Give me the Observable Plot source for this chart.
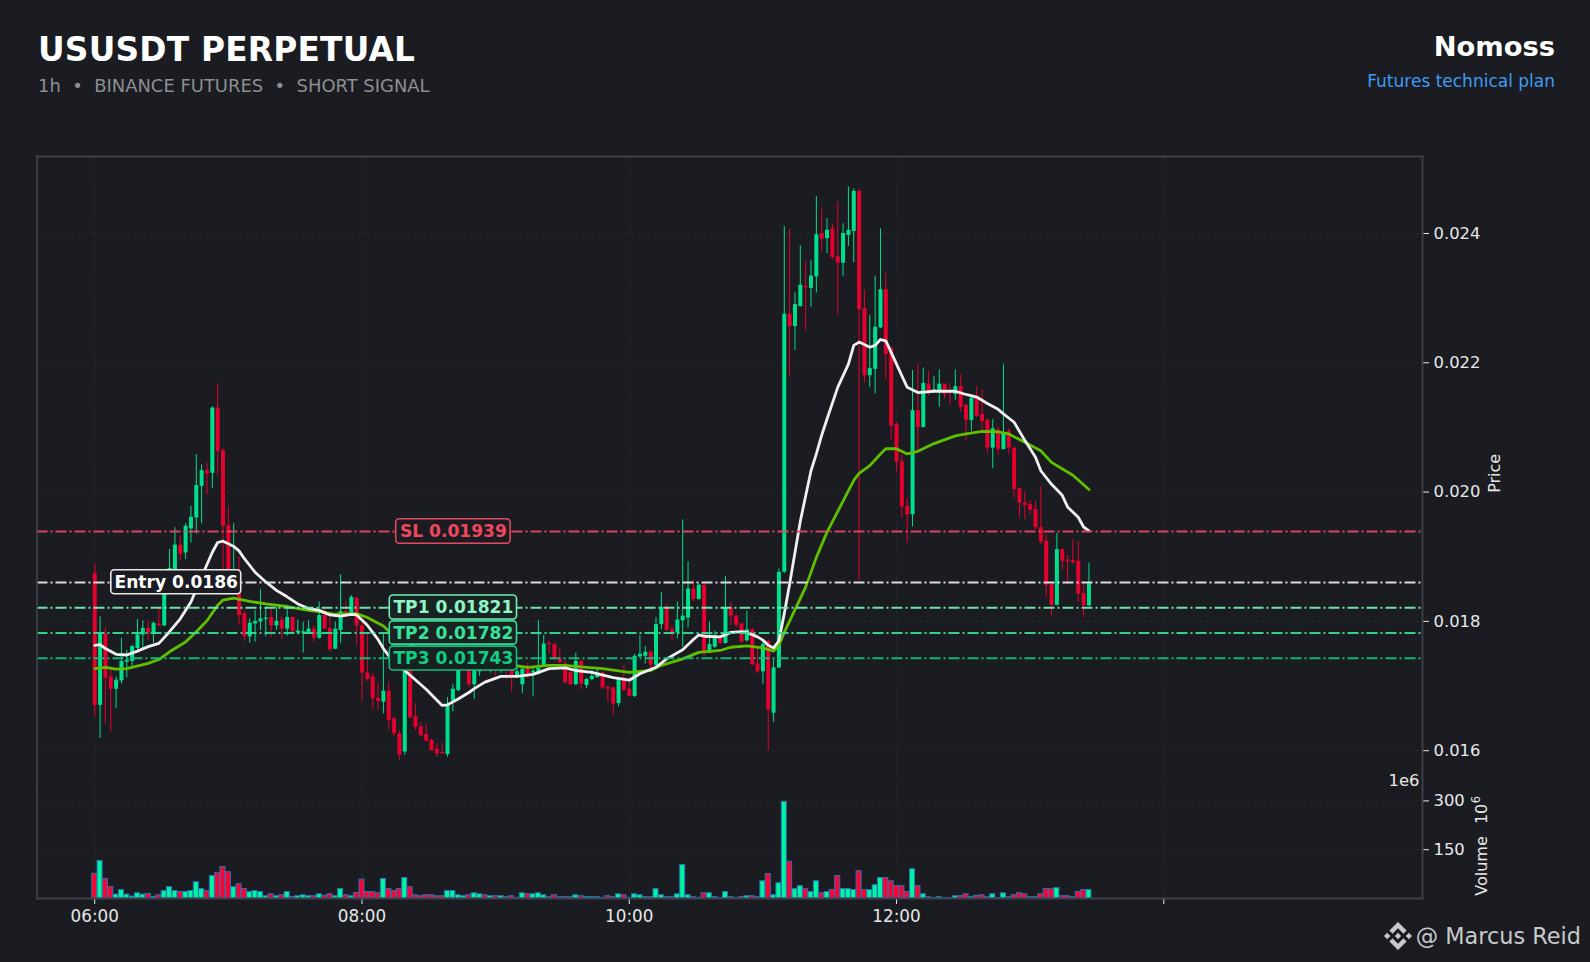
<!DOCTYPE html>
<html><head><meta charset="utf-8">
<script src="https://cdn.jsdelivr.net/npm/d3@7"></script>
<script src="https://cdn.jsdelivr.net/npm/@observablehq/plot@0.6"></script>
<style>
html,body{margin:0;padding:0;background:#1a1c21;width:1590px;height:962px;overflow:hidden;font-family:"DejaVu Sans",sans-serif}
.t{position:absolute;white-space:nowrap}
</style></head><body>
<div id="chart"></div>
<div class="t" style="left:38px;top:31px;font-size:32.8px;font-weight:700;color:#fff;letter-spacing:.2px">USUSDT PERPETUAL</div>
<div class="t" style="left:38px;top:75px;font-size:17.95px;color:#8e8f93">1h &nbsp;•&nbsp; BINANCE FUTURES &nbsp;•&nbsp; SHORT SIGNAL</div>
<div class="t" style="right:35px;top:31px;font-size:27.3px;font-weight:700;color:#fff">Nomoss</div>
<div class="t" style="right:35px;top:71px;font-size:17px;color:#3f9cf5">Futures technical plan</div>
<div class="t" id="mark" style="right:9px;top:922px;font-size:22.4px;color:#c9c9c9;display:flex;align-items:center;gap:4px">
<svg width="28" height="28" viewBox="0 0 126.6 126.6"><g fill="#c9c9c9"><path d="M38.7 53.2 63.3 28.6l24.6 24.6 14.3-14.3L63.3 0 24.4 38.9z"/><path d="M0 63.3 14.3 49l14.3 14.3-14.3 14.3z"/><path d="M38.7 73.4 63.3 98l24.6-24.6 14.3 14.3-38.9 38.9-38.9-38.9z"/><path d="M98 63.3 112.3 49l14.3 14.3-14.3 14.3z"/><path d="M77.8 63.3 63.3 48.8 52.6 59.5l-1.2 1.2-2.5 2.5 14.4 14.6 14.5-14.5z"/></g></svg><span>@ Marcus Reid</span></div>
<script>
const open = [.01874,.0167,.01781,.01714,.01695,.01708,.01737,.01738,.01758,.01779,
.01789,.0178,.01796,.01793,.01863,.01879,.01918,.01906,.01943,.0196,
.02009,.02033,.02029,.0213,.02064,.01948,.01868,.01875,.01812,.01776,
.01796,.01799,.01803,.01806,.01793,.01802,.01788,.01806,.01782,.01782,
.01782,.01788,.01774,.01809,.01789,.01757,.01786,.01815,.01812,.01836,
.01793,.0172,.01714,.01681,.01675,.01692,.01649,.01626,.01598,.01745,
.01653,.01637,.01625,.01616,.01602,.01597,.01594,.01677,.01693,.01729,
.01735,.01702,.01722,.01735,.01726,.01733,.01725,.0173,.0173,.01716,
.01702,.01727,.0172,.01719,.01732,.01766,.01764,.01741,.01734,.01721,
.01702,.01738,.01701,.0171,.01713,.0172,.01698,.01697,.01673,.01711,
.01695,.01684,.01745,.01746,.01752,.01732,.01795,.01822,.01787,.01782,
.01801,.01805,.0185,.01834,.01856,.01751,.0176,.01775,.01766,.01821,
.01808,.01796,.0177,.01787,.01734,.01722,.01769,.01658,.01728,.01876,
.02275,.02256,.02287,.02318,.02315,.02333,.024,.02392,.02407,.02364,
.02354,.02397,.02403,.02465,.02284,.0218,.0219,.02254,.02313,.02222,
.02105,.02047,.01978,.01965,.02126,.021,.02167,.02155,.02156,.02167,
.02157,.02151,.02163,.02134,.02111,.02147,.0212,.02111,.02068,.02096,
.02066,.02094,.02068,.02005,.01983,.01981,.01973,.01945,.01924,.01857,
.01825,.01911,.01895,.01894,.01893,.01843,.01824];
const close = [.0167,.01782,.01712,.01695,.01709,.01738,.0174,.01761,.01779,.01789,
.01782,.01797,.01793,.01863,.01882,.01918,.01904,.01947,.01961,.0201,
.02033,.02028,.0213,.02063,.01947,.01868,.01875,.01809,.01776,.01797,
.018,.01804,.01805,.01793,.018,.01788,.01806,.01784,.01785,.01784,
.01788,.01774,.01809,.01788,.01756,.01788,.01815,.01812,.01837,.01793,
.0172,.0171,.0168,.01676,.01692,.01647,.01626,.01593,.01745,.01651,
.01636,.01623,.01615,.016,.01595,.01595,.01671,.01695,.01729,.01736,
.01702,.01735,.01735,.01726,.01733,.01725,.0173,.01726,.01716,.01722,
.01726,.01716,.01723,.01727,.01765,.01764,.01741,.01736,.01705,.01702,
.01738,.01703,.0171,.01715,.0172,.01697,.01695,.01672,.01711,.01693,
.01684,.01746,.01749,.01752,.01732,.01795,.01822,.01786,.01782,.01802,
.01808,.0185,.01834,.01856,.01752,.01764,.01778,.01766,.01821,.01808,
.01794,.01768,.01787,.01733,.01722,.01764,.01663,.01728,.01876,.02275,
.02256,.0229,.0232,.02316,.02334,.02398,.02391,.02405,.02363,.02354,
.024,.02405,.02465,.02282,.0218,.02191,.02255,.02313,.02213,.02102,
.02046,.01977,.01965,.02126,.021,.02168,.02155,.02158,.02167,.02151,
.02155,.02163,.02131,.02111,.02145,.02117,.02109,.02068,.02098,.02066,
.0209,.02068,.02004,.01983,.01979,.01972,.01945,.01923,.01856,.01825,
.01911,.01893,.01893,.01891,.01842,.01824,.01858];
const high = [.01889,.01807,.0179,.01725,.01714,.01774,.01755,.01763,.01803,.01801,
.01801,.01799,.01821,.01875,.01911,.01945,.01932,.01951,.01978,.02058,
.02042,.02045,.02132,.02168,.02067,.01977,.01951,.019,.01815,.01804,
.01817,.01849,.01822,.0182,.01822,.01807,.01825,.01807,.01802,.01799,
.01801,.01794,.0183,.0182,.01807,.01799,.01872,.0183,.0184,.01837,
.01804,.01781,.01719,.01704,.01781,.01706,.01653,.01631,.0175,.01748,
.01673,.01644,.01641,.01618,.01611,.01612,.01682,.01703,.01735,.01745,
.01745,.01748,.01742,.0174,.01742,.01738,.01736,.01738,.01738,.0173,
.0173,.01735,.01727,.01801,.01778,.0177,.01766,.01757,.01739,.01727,
.01751,.0174,.01712,.01724,.01729,.01722,.017,.01699,.01713,.01732,
.01712,.01749,.01778,.01761,.01755,.01806,.01845,.01827,.01794,.0183,
.01957,.01892,.01863,.01858,.01857,.01799,.01785,.01778,.01869,.01829,
.0181,.01797,.01816,.01789,.01758,.0177,.01771,.01742,.01881,.02411,
.02406,.02308,.02381,.02356,.02358,.02457,.02437,.02423,.02415,.02449,
.02415,.02472,.02469,.02469,.02313,.02273,.02334,.02407,.02338,.02225,
.02107,.02057,.01991,.02188,.02198,.02192,.02187,.02179,.02189,.02167,
.02167,.02189,.02181,.02136,.02147,.02163,.02158,.02113,.02112,.02101,
.02197,.02098,.02069,.02006,.02,.01986,.01986,.02008,.01934,.01858,
.01936,.01912,.01902,.01926,.01923,.01861,.0189];
const low = [.01652,.01619,.01642,.01629,.01665,.01703,.01713,.01727,.01755,.01758,
.0177,.01766,.01792,.01792,.01858,.01878,.01894,.01896,.01921,.01935,
.01951,.01996,.02005,.02026,.0187,.01862,.01862,.01794,.01769,.01766,
.01768,.01786,.01776,.01775,.01786,.01772,.01777,.01781,.01779,.01751,
.0178,.01768,.01772,.01787,.01753,.01756,.01766,.01807,.01811,.01763,
.01676,.01707,.01664,.01663,.01657,.01631,.01621,.01585,.01593,.01649,
.01631,.01621,.01613,.01599,.0159,.01594,.0159,.0166,.01691,.01725,
.01698,.01679,.01715,.01722,.0172,.01716,.0172,.0171,.0169,.01712,
.01688,.01712,.01683,.01717,.0173,.0175,.01738,.01735,.01704,.01701,
.01701,.01694,.01696,.01708,.01712,.01695,.01675,.01654,.01668,.01692,
.01683,.01682,.01744,.01734,.01727,.0173,.01787,.01785,.0177,.01773,
.0176,.0179,.0183,.01833,.01746,.0175,.01758,.01764,.01765,.01794,
.0179,.01766,.01768,.0173,.01719,.01703,.016,.01644,.01727,.01874,
.02179,.02219,.02286,.0225,.02286,.02308,.02371,.02369,.02359,.02274,
.02334,.0238,.02355,.01864,.02169,.02162,.02152,.02253,.02174,.02081,
.02031,.0196,.01921,.01946,.02064,.02099,.02149,.02153,.02131,.02144,
.02135,.02142,.02124,.02079,.02094,.02115,.02095,.0206,.02036,.02057,
.02065,.02058,.01991,.0196,.01957,.01965,.01941,.01919,.01837,.01808,
.01824,.01879,.01861,.01888,.0183,.01806,.01823];
const volume = [76,115,60,35,12,26,12,6,16,12,14,5,10,23,35,23,20,20,23,50,
29,23,69,78,97,81,35,44,29,20,23,20,7,13,7,10,20,5,7,10,
7,7,13,8,13,7,29,10,7,17,58,20,20,16,60,29,23,29,63,35,
10,7,10,10,7,7,23,23,10,7,10,16,13,10,7,7,7,4,7,2,
16,13,13,16,10,4,10,4,4,4,10,7,4,4,4,2,7,4,13,10,
2,13,10,4,4,29,10,4,4,13,103,10,4,2,16,16,4,2,20,4,
2,4,7,7,4,53,75,10,47,297,113,29,38,29,20,53,16,20,26,69,
29,29,26,84,26,26,41,63,63,53,38,38,20,90,38,13,4,1,4,1,
1,7,7,13,4,8,10,4,13,1,16,4,10,16,13,4,4,13,29,29,
32,7,7,4,20,26,26];
const fastIdx = [0,1,2,4,6,8,10,12,14,16,18,20,22,23,24,25,26,27,28,30,32,34,36,38,40,42,44,46,48,49,50,51,52,53,54,55,58,62,65,66,68,70,71,73,76,79,82,85,88,90,93,97,100,102,105,107,110,112,113,114,117,119,121,122,124,125,126,127,128,129,130,132,134,135,136,137,139,141,142,143,145,146,147,148,149,150,152,154,157,161,163,165,167,169,170,172,174,176,177,179,181,182,184,185,186];
const fastVal = [.01763,.01764,.01758,.01749,.01748,.01754,.01761,.01766,.01784,.01804,.0183,.01869,.01907,.01922,.01924,.0192,.01916,.01909,.01897,.01876,.01861,.01848,.01838,.01827,.0182,.01817,.0181,.01808,.01811,.0181,.01802,.01794,.01783,.01772,.01758,.01747,.01724,.01695,.0167,.01671,.0168,.0169,.01696,.01706,.01715,.01715,.01718,.01727,.01728,.01724,.01721,.01713,.01709,.01719,.01729,.01742,.01756,.01772,.01779,.01777,.01776,.01783,.01784,.01783,.01776,.01771,.01763,.01759,.0177,.01812,.01858,.01955,.02033,.02059,.02088,.02113,.02162,.02198,.02227,.02232,.02224,.02227,.02236,.02234,.02216,.02198,.02162,.02154,.02156,.02156,.02151,.02147,.02137,.02128,.02121,.02108,.0208,.02054,.02033,.02012,.01995,.01977,.01961,.01946,.0194];
const slowIdx = [0,2,4,6,10,12,14,17,19,21,23,24,26,29,32,36,40,42,45,49,51,54,55,60,66,72,79,81,85,88,92,95,100,104,106,110,113,117,119,122,125,127,128,129,133,135,137,142,143,145,147,148,150,152,154,157,161,163,166,169,171,174,177,179,183,186];
const slowVal = [.01727,.01729,.01726,.01727,.01735,.01741,.01753,.01768,.01784,.01801,.01825,.01833,.01836,.01831,.01827,.01823,.01817,.01815,.01811,.01812,.01806,.01793,.01785,.0176,.01745,.01735,.01731,.01729,.01732,.01732,.01729,.01727,.01721,.01724,.01732,.01742,.01752,.01755,.0176,.01762,.01759,.01754,.01763,.01783,.01853,.01899,.01938,.02018,.02029,.02041,.02059,.02067,.02067,.02059,.02063,.02075,.02087,.0209,.02094,.02093,.0209,.02077,.02064,.02046,.02026,.02004];
const xTicks = [0,50,100,150,200];
const xTickLabels = ["06:00","08:00","10:00","12:00",""];
const priceTicks = [.016,.018,.02,.022,.024];
const volumeTicks = [150,300];
const levelNames = ["SL","Entry","TP1","TP2","TP3"];
const levelPrices = [.01939,.0186,.01821,.01782,.01743];
const levelText = ["SL 0.01939","Entry 0.0186","TP1 0.01821","TP2 0.01782","TP3 0.01743"];
const levelColors = ["#e5485f","#e8e8e8","#72eeb4","#33dc93","#14bd7c"];
const levelTextColors = ["#f0475f","#ffffff","#8ff5c4","#39e29b","#12cc85"];
const levelBoxFill = ["#1a1c21","#1a1c21","#182423","#182322","#172220"];
const labelX1 = [56.4,3.1,55.2,55.2,55.2];
const labelX2 = [77.8,27.4,79,79,79];
const labelLow = [.0192,.01842,.01803,.01764,.01724];
const labelHigh = [.01958,.01879,.0184,.018,.01761];

const up = "#00e08c", down = "#e6002d", volUp = "#00f5a0", volDown = "#ff0033", edge = "#2a72b5", gridC = "#33363c", frameC = "#3d4149";
const candles = open.map((o,i)=>({i,o,c:close[i],h:high[i],l:low[i],v:volume[i],color:close[i]>=o?up:down,vcolor:close[i]>=o?volUp:volDown}));
const fast = fastIdx.map((i,k)=>({i,p:fastVal[k]}));
const slow = slowIdx.map((i,k)=>({i,p:slowVal[k]}));
const levels = levelNames.map((n,k)=>({n,p:levelPrices[k],t:levelText[k],c:levelColors[k],tc:levelTextColors[k],f:levelBoxFill[k],x1:labelX1[k],x2:labelX2[k],lo:labelLow[k],hi:labelHigh[k]}));
const xDomain = [-10.8,248.4];
const common = {width:1590,marginLeft:36.5,marginRight:168,x:{domain:xDomain,axis:null},style:{background:"transparent",color:"#e8e8e8",fontFamily:"DejaVu Sans",fontSize:"16px",overflow:"visible",position:"absolute",left:"0px"}};
const dash = "11 3 2 3";

const price = Plot.plot({...common,height:634,marginTop:0,marginBottom:0,
 y:{domain:[.015384,.025191]},
 marks:[
  Plot.ruleX(xTicks,{stroke:gridC,strokeDasharray:"4 3",strokeWidth:.8,strokeOpacity:.6}),
  Plot.ruleY(priceTicks,{stroke:gridC,strokeDasharray:"4 3",strokeWidth:.8,strokeOpacity:.6}),
  Plot.ruleX(candles,{x:"i",y1:"l",y2:"h",stroke:"color",strokeWidth:1}),
  Plot.ruleX(candles,{x:"i",y1:"o",y2:"c",stroke:"color",strokeWidth:4}),
  Plot.line(slow,{x:"i",y:"p",stroke:"#5fbf00",strokeWidth:2.8}),
  Plot.line(fast,{x:"i",y:"p",stroke:"#f0f0f0",strokeWidth:2.8}),
  Plot.ruleY(levels,{y:"p",stroke:"c",strokeWidth:2,strokeDasharray:dash,strokeOpacity:.95}),
  Plot.rect(levels,{x1:"x1",x2:"x2",y1:"lo",y2:"hi",fill:"f",stroke:"c",strokeWidth:1.6,rx:3.5}),
  Plot.text(levels,{x:d=>(d.x1+d.x2)/2,y:d=>(d.lo+d.hi)/2,text:"t",fill:"tc",fontSize:17.1,fontWeight:700,fontFamily:"DejaVu Sans"}),
  Plot.axisY(priceTicks,{anchor:"right",label:null,tickSize:6,tickPadding:5,tickFormat:d=>d.toFixed(3),fontSize:16.4,stroke:"#e8e8e8"}),
  Plot.text(["Price"],{x:262,y:.02029,rotate:-90,fontSize:16,fill:"#e8e8e8"}),
  Plot.frame({anchor:"top",stroke:frameC,strokeWidth:1.8}),
  Plot.frame({anchor:"left",stroke:frameC,strokeWidth:1.8}),
  Plot.frame({anchor:"right",stroke:frameC,strokeWidth:1.8})
 ]});
const vol = Plot.plot({...common,height:192,marginTop:20,marginBottom:64,
 y:{domain:[0,332]},
 marks:[
  Plot.ruleX(xTicks,{stroke:gridC,strokeDasharray:"4 3",strokeWidth:.8,strokeOpacity:.6}),
  Plot.ruleY(volumeTicks,{stroke:gridC,strokeDasharray:"4 3",strokeWidth:.8,strokeOpacity:.6}),
  Plot.rect(candles,{x1:d=>d.i-.47,x2:d=>d.i+.47,y1:0,y2:"v",fill:"vcolor",stroke:edge,strokeWidth:1}),
  Plot.axisY(volumeTicks,{anchor:"right",label:null,tickSize:6,tickPadding:5,fontSize:16.4,stroke:"#e8e8e8"}),
  Plot.axisX(xTicks,{label:null,tickSize:6,tickPadding:6,tickFormat:d=>xTickLabels[xTicks.indexOf(d)],fontSize:16.8,stroke:"#e8e8e8"}),
  Plot.text(["1e6"],{frameAnchor:"top-right",dx:-3,dy:-16,fontSize:16.4,fill:"#e8e8e8"}),
  Plot.text(["Volume"],{x:259.6,y:100,rotate:-90,fontSize:16,fill:"#e8e8e8"}),
  Plot.text(["10"],{x:259.6,y:260,rotate:-90,fontSize:16,fill:"#e8e8e8"}),
  Plot.text(["6"],{x:258.4,y:304,rotate:-90,fontSize:11.5,fill:"#e8e8e8"}),
  Plot.frame({anchor:"bottom",stroke:frameC,strokeWidth:1.8}),
  Plot.frame({anchor:"left",stroke:frameC,strokeWidth:1.8}),
  Plot.frame({anchor:"right",stroke:frameC,strokeWidth:1.8})
 ]});
price.style.top="156px";
vol.style.top="770px";
document.getElementById("chart").append(vol,price);
</script>
</body></html>
